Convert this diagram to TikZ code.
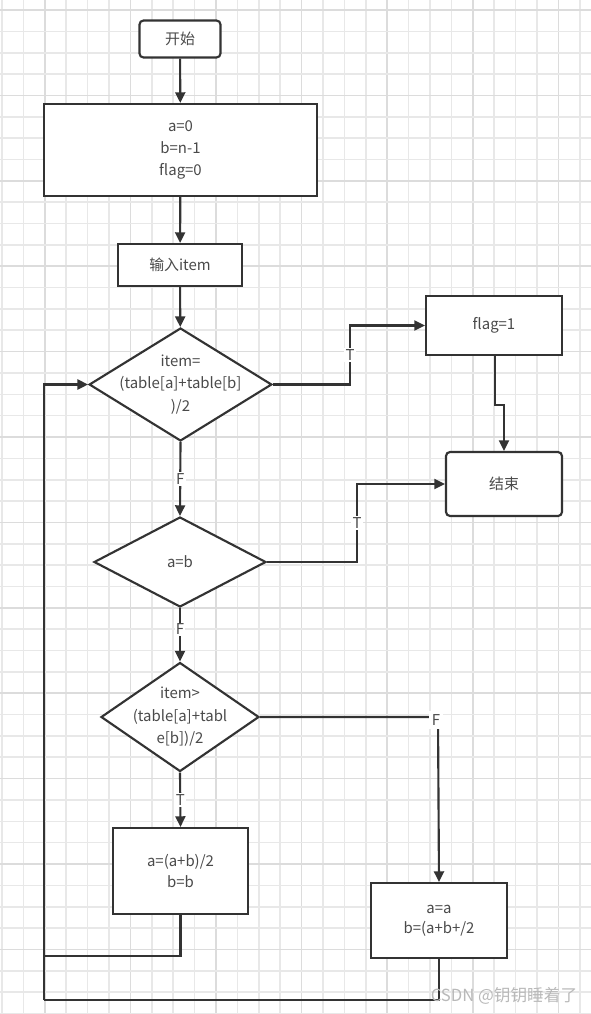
\documentclass[tikz,border=0pt]{standalone}
\usepackage{fontspec}
\setmainfont{Noto Sans CJK SC}
\usetikzlibrary{shapes.geometric,arrows.meta}
\definecolor{ln}{HTML}{333333}
\definecolor{tx}{HTML}{4A4A4A}
\definecolor{gridminor}{HTML}{E8E8E8}
\definecolor{gridmajor}{HTML}{DCDCDC}
\tikzset{
  txtfont/.style={font=\fontsize{11.2pt}{16.5pt}\selectfont, text=tx},
  every node/.style={txtfont},
  procbox/.style={draw=ln, line width=1.6pt, fill=white, align=center, inner sep=0pt},
  termbox/.style={procbox, rounded corners=3pt},
  decision/.style={draw=ln, line width=1.6pt, fill=white, diamond, inner sep=0pt},
  conn/.style={draw=ln, line width=1.6pt, -{Triangle[length=8pt,width=7.5pt]}},
  plainconn/.style={draw=ln, line width=1.6pt},
  lbl/.style={fill=white, inner sep=1pt},
}
\begin{document}
\begin{tikzpicture}[x=0.75pt, y=-0.75pt]
\useasboundingbox (0,0) rectangle (591,1014);
\fill[white] (0,0) rectangle (591,1014);
% grid
\foreach \k in {0,...,27} {
  \pgfmathsetmacro{\xx}{2+21.4*\k}
  \pgfmathtruncatemacro{\m}{mod(\k,4)}
  \ifnum\m=2 \draw[gridmajor, line width=1.3pt] (\xx,0) -- (\xx,1014);
  \else \draw[gridminor, line width=1.2pt] (\xx,0) -- (\xx,1014); \fi
}
\foreach \k in {0,...,47} {
  \pgfmathsetmacro{\yy}{10+21.35*\k}
  \pgfmathtruncatemacro{\m}{mod(\k,4)}
  \ifnum\m=0 \draw[gridmajor, line width=1.3pt] (0,\yy) -- (591,\yy);
  \else \draw[gridminor, line width=1.2pt] (0,\yy) -- (591,\yy); \fi
}

% nodes
\node[termbox, minimum width=60.75pt, minimum height=27.75pt] (start) at (180,39) {开始};
\node[procbox, minimum width=204.75pt, minimum height=69pt] (init) at (180.5,150) {a=0\\b=n-1\\flag=0};
\node[procbox, minimum width=93pt, minimum height=31.5pt] (input) at (180,265) {输入item};
\node[decision, minimum width=137pt, minimum height=84.75pt,
      label={[align=center, txtfont, font=\fontsize{11.2pt}{17pt}\selectfont]center:item=\\(table[a]+table[b]\\)/2}] (d1) at (180.5,384.5) {};
\node[procbox, minimum width=102pt, minimum height=44.25pt] (flag) at (494,325.5) {flag=1};
\node[termbox, minimum width=87pt, minimum height=48pt] (end) at (504,484) {结束};
\node[decision, minimum width=129pt, minimum height=67.5pt,
      label={[txtfont]center:a=b}] (d2) at (180,562) {};
\node[decision, minimum width=118.5pt, minimum height=81.75pt,
      label={[align=center, txtfont, font=\fontsize{11.2pt}{17pt}\selectfont]center:item>\\(table[a]+tabl\\e[b])/2}] (d3) at (180,717) {};
\node[procbox, minimum width=101pt, minimum height=64.5pt, font=\fontsize{11.2pt}{15.5pt}\selectfont] (b1) at (180.5,871) {a=(a+b)/2\\b=b};
\node[procbox, minimum width=101.5pt, minimum height=56.25pt, font=\fontsize{11.2pt}{15pt}\selectfont] (b2) at (439,920.5) {a=a\\b=(a+b+/2};

\coordinate (t1a) at (350,384.5);
\coordinate (t1b) at (350,325.5);
\coordinate (fj1) at (495,405);
\coordinate (fj2) at (504,405);
\coordinate (t2a) at (357,562);
\coordinate (t2b) at (357,484);
\coordinate (f3) at (438,717);
\coordinate (l1) at (44,956);
\coordinate (l2) at (44,1000);
\coordinate (l3) at (44,384.5);

% connectors
\draw[conn] (start) -- (init);
\draw[conn] (init) -- (input);
\draw[conn] (input) -- (d1);
\draw[conn] (d1.east) -- (t1a) -- node[lbl, pos=0.5] (lt1) {T} (t1b) -- (flag.west);
\draw[conn] (flag.south -| fj1) -- (fj1) -- (fj2) -- (end.north);
\draw[conn] (d1.south) -- node[lbl, pos=0.5] (lf1) {F} (d2.north);
\draw[conn] (d2.east) -- (t2a) -- node[lbl, pos=0.5] (lt2) {T} (t2b) -- (end.west);
\draw[conn] (d2.south) -- node[lbl, pos=0.4] (lf2) {F} (d3.north);
\draw[conn] (d3.east) -- (f3) -- (b2.north);
\node[lbl, inner sep=2.5pt] (lf3) at (436,720) {F};
\draw[conn] (d3.south) -- node[lbl, pos=0.5] (lt3) {T} (b1.north);
\draw[plainconn] (b1.south) |- (l1);
\draw[plainconn] (b2.south) |- (l2);
\draw[conn] (l2) -- (l3) -- (d1.west);

\node[text=gray!55, font=\fontsize{12.5pt}{14pt}\selectfont] (wm) at (504,996) {CSDN @钥钥睡着了};
\end{tikzpicture}
\end{document}
